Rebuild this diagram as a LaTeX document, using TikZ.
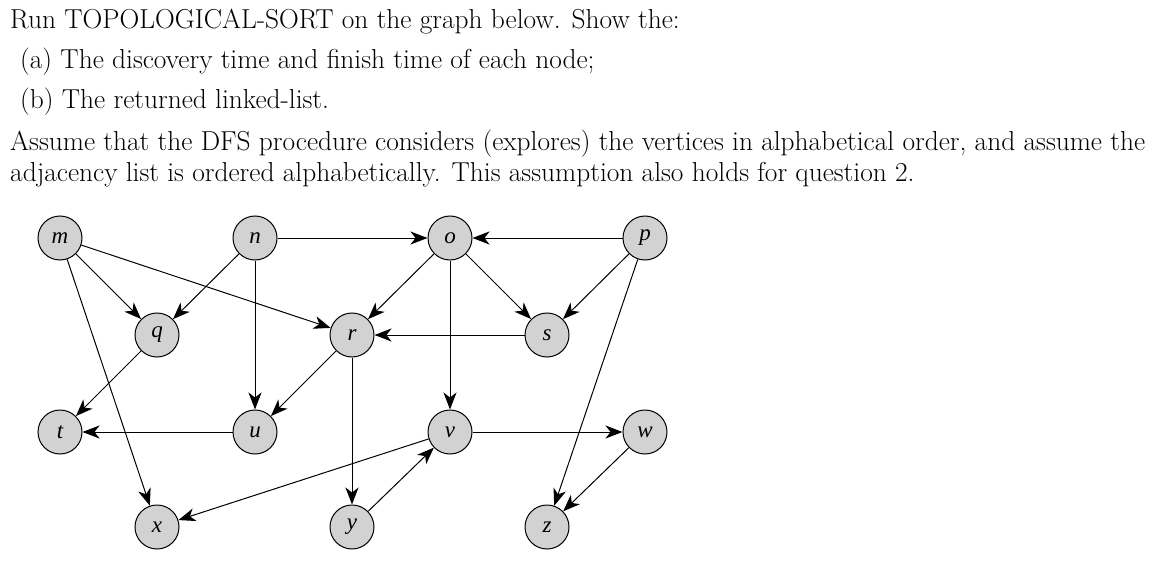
\documentclass[tikz,border=0pt]{standalone}
\usepackage{fontspec}
\newfontfamily\nodefont{Liberation Serif}
\usetikzlibrary{arrows.meta}
\begin{document}
\begin{tikzpicture}[x=1pt,y=-1pt,
  vtx/.style={circle,draw,fill=gray!35,minimum size=44pt,inner sep=0pt,font=\nodefont\itshape\fontsize{23}{23}\selectfont,line width=1pt},
  edge/.style={line width=1pt,-{Stealth[length=17pt,width=13pt,inset=5pt]}},
  txt/.style={anchor=base west,inner sep=0pt,font=\fontsize{27.4}{30}\selectfont}]
\useasboundingbox (0,0) rectangle (1170,567);
\node[txt] (l1) at (10,29) {Run TOPOLOGICAL-SORT on the graph below. Show the:};
\node[txt] (l2) at (20,69) {(a)\ The discovery time and finish time of each node;};
\node[txt] (l3) at (20,109) {(b)\ The returned linked-list.};
\node[txt] (l4) at (10,150) {Assume that the DFS procedure considers (explores) the vertices in alphabetical order, and assume the};
\node[txt] (l5) at (10,181) {adjacency list is ordered alphabetically. This assumption also holds for question 2.};
\node[vtx] (m) at (60,238) {m};
\node[vtx] (n) at (255,238) {n};
\node[vtx] (o) at (450,238) {o};
\node[vtx] (p) at (645,238) {p};
\node[vtx] (q) at (157,335) {q};
\node[vtx] (r) at (352,335) {r};
\node[vtx] (s) at (547,335) {s};
\node[vtx] (t) at (60,432) {t};
\node[vtx] (u) at (255,432) {u};
\node[vtx] (v) at (450,432) {v};
\node[vtx] (w) at (645,432) {w};
\node[vtx] (x) at (157,527) {x};
\node[vtx] (y) at (352,527) {y};
\node[vtx] (z) at (547,527) {z};
\foreach \a/\b in {m/q,m/r,m/x,n/q,n/u,n/o,o/r,o/s,o/v,p/o,p/s,p/z,q/t,r/u,r/y,s/r,u/t,v/w,v/x,w/z,y/v}
  \draw[edge] (\a) -- (\b);
\end{tikzpicture}
\end{document}
